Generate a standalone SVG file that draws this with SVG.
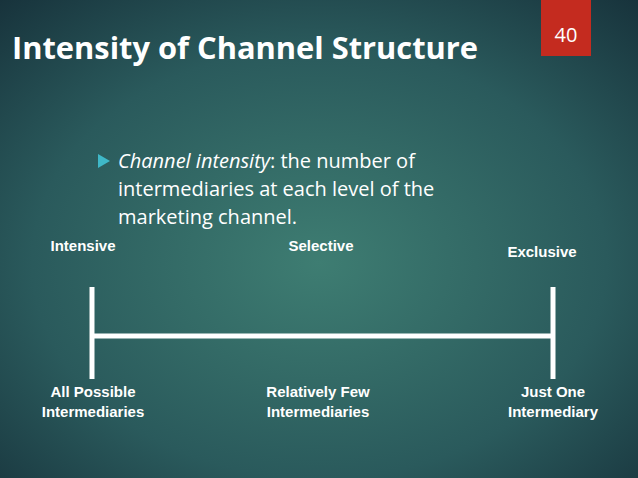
<svg xmlns="http://www.w3.org/2000/svg" width="638" height="478" viewBox="0 0 638 478">
<defs>
<radialGradient id="bg" cx="0.5" cy="0.55" r="0.75">
<stop offset="0" stop-color="#3e7d72"/>
<stop offset="0.6" stop-color="#2a5a5c"/>
<stop offset="1" stop-color="#17323b"/>
</radialGradient>
<style>
.t{font-family:"Liberation Sans",Arial,sans-serif;font-size:15px;font-weight:bold;fill:#fff;text-anchor:middle}
.b{font-family:"Open Sans","Noto Sans",sans-serif;font-size:20px;fill:#fff}
.ln{stroke:#fff;stroke-width:5;fill:none}
</style>
</defs>
<rect width="638" height="478" fill="url(#bg)"/>
<rect x="541" y="0" width="50" height="56" fill="#c42b1f"/>
<text x="566" y="42" font-family="Open Sans,sans-serif" font-size="20" fill="#fff" text-anchor="middle">40</text>
<text x="12" y="59" font-family="Open Sans,'Noto Sans',sans-serif" font-size="30" font-weight="bold" fill="#fff" textLength="466" lengthAdjust="spacingAndGlyphs">Intensity of Channel Structure</text>
<polygon points="98,154 110,161 98,168" fill="#3fb8c8"/>
<text class="b" x="118" y="168"><tspan font-style="italic">Channel intensity</tspan>: the number of</text>
<text class="b" x="118" y="196">intermediaries at each level of the</text>
<text class="b" x="118" y="224">marketing channel.</text>
<g id="connectors">
<line class="ln" x1="92" y1="287" x2="92" y2="379"/>
<line class="ln" x1="553" y1="287" x2="553" y2="379"/>
<line class="ln" x1="92" y1="336" x2="553" y2="336"/>
</g>
<g id="intensive"><text class="t" x="83" y="251">Intensive</text></g>
<g id="selective"><text class="t" x="321" y="251">Selective</text></g>
<g id="exclusive"><text class="t" x="542" y="257">Exclusive</text></g>
<g id="all"><text class="t" x="93" y="397">All Possible</text><text class="t" x="93" y="417">Intermediaries</text></g>
<g id="few"><text class="t" x="318" y="397">Relatively Few</text><text class="t" x="318" y="417">Intermediaries</text></g>
<g id="one"><text class="t" x="553" y="397">Just One</text><text class="t" x="553" y="417">Intermediary</text></g>
</svg>
